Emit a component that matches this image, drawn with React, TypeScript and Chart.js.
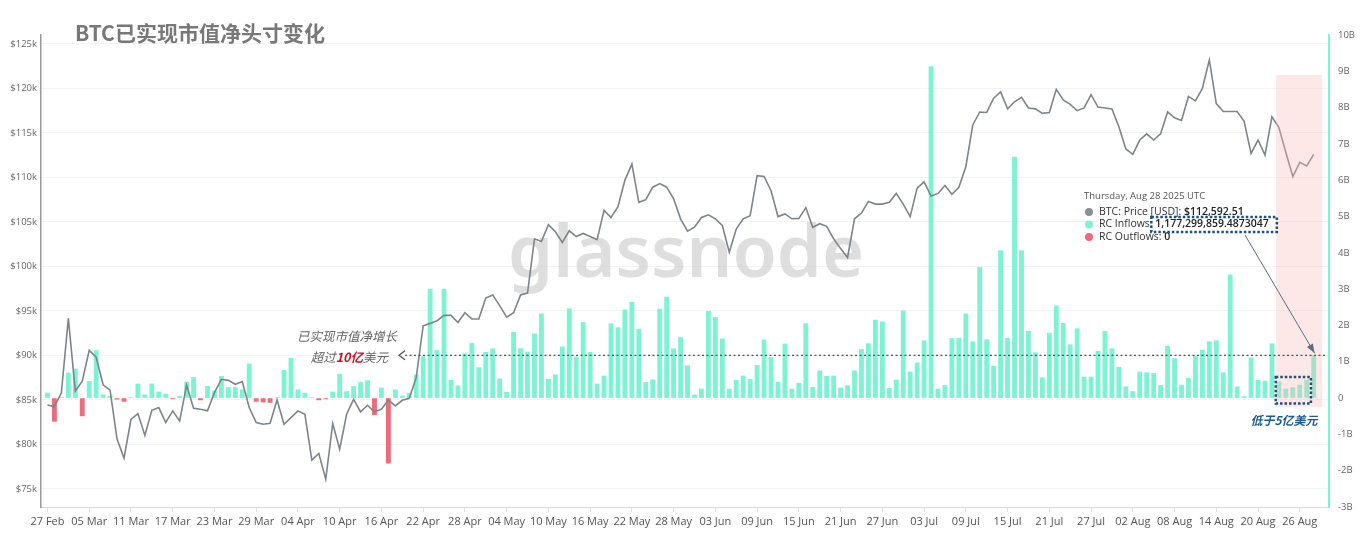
import React, { useEffect, useRef } from 'react';
import { Chart, registerables } from 'chart.js';
Chart.register(...registerables);

// Tick labels on the time axis (every 6 days from 27 Feb 2025)
const xTickLabels = ['27 Feb','05 Mar','11 Mar','17 Mar','23 Mar','29 Mar','04 Apr','10 Apr','16 Apr','22 Apr','28 Apr','04 May','10 May','16 May','22 May','28 May','03 Jun','09 Jun','15 Jun','21 Jun','27 Jun','03 Jul','09 Jul','15 Jul','21 Jul','27 Jul','02 Aug','08 Aug','14 Aug','20 Aug','26 Aug'];
const xTickStep = 6;

// BTC price (USD, thousands), daily 27 Feb – 28 Aug 2025
const btcPriceK = [
  84.44,84.25,85.8,94.16,86.0,87.1,90.57,89.8,86.7,86.1,
  80.6,78.46,82.8,83.47,81.0,83.84,84.14,82.46,83.77,82.64,
  86.68,84.07,83.95,83.77,85.82,87.32,87.2,86.76,87.06,84.14,
  82.46,82.27,82.38,85.0,82.27,83.02,83.77,83.39,78.23,78.98,
  76.1,82.35,79.47,83.39,85.07,83.65,84.4,83.65,83.95,85.0,
  84.33,84.96,85.19,87.5,93.33,93.6,93.9,94.5,94.5,93.7,
  94.8,94.1,94.1,96.45,96.8,95.6,94.3,94.8,96.8,97.0,
  103.1,102.8,104.7,103.9,102.7,104.0,103.35,103.7,103.35,103.0,
  106.3,105.5,106.7,109.7,111.5,107.2,107.5,108.9,109.3,108.9,
  107.6,105.35,103.95,104.4,105.5,105.8,105.35,104.6,101.6,104.2,
  105.35,105.7,110.2,110.1,108.5,105.6,105.9,105.35,105.4,106.6,
  104.4,104.8,104.5,103.1,102.0,101.0,105.35,106.0,107.3,107.0,
  107.0,107.2,108.2,107.0,105.6,108.8,109.5,107.9,108.2,109.1,
  108.1,108.9,111.2,115.9,117.35,117.3,118.9,119.6,117.7,118.5,
  119.0,117.8,117.7,117.2,117.3,119.9,118.7,118.2,117.5,117.8,
  119.3,117.9,117.8,117.7,115.7,113.2,112.6,114.2,114.9,114.2,
  114.9,117.35,116.7,116.4,119.1,118.6,120.0,123.2,118.3,117.4,
  117.4,117.4,116.3,112.7,114.2,112.5,116.8,115.6,112.8,110.1,
  111.7,111.3,112.59
];

// Net realized-cap position change (billions USD): positive = inflow, negative = outflow
const netRealizedCapB = [
  0.14,-0.64,0.02,0.69,0.8,-0.49,0.46,1.31,0.09,0.05,
  -0.03,-0.09,0.01,0.39,0.09,0.39,0.17,0.11,-0.01,0.05,
  0.44,0.57,-0.05,0.32,0.2,0.6,0.29,0.3,0.23,0.94,
  -0.09,-0.11,-0.12,0.01,0.76,1.1,0.23,0.14,0.01,-0.05,
  -0.02,0.17,0.66,0.18,0.32,0.43,0.48,-0.46,0.28,-1.79,
  0.23,0.06,0.13,0.64,1.14,3.0,1.31,3.0,0.49,0.34,
  1.22,1.51,0.84,1.26,1.36,0.53,0.16,1.81,1.36,1.27,
  1.77,2.32,0.52,0.64,1.41,2.46,1.13,2.08,1.26,0.39,
  0.61,2.05,1.94,2.43,2.64,1.9,0.43,0.5,2.45,2.78,
  1.36,1.67,0.89,0.09,0.25,2.39,2.22,1.63,0.25,0.49,
  0.61,0.52,0.9,1.6,1.12,0.44,1.49,0.25,0.41,2.05,
  0.3,0.75,0.6,0.61,0.28,0.34,0.75,1.34,1.5,2.15,
  2.1,0.27,0.5,2.4,0.72,0.97,1.58,9.13,0.25,0.35,
  1.64,1.65,2.32,1.55,3.6,1.61,0.88,4.06,1.65,6.64,
  4.06,1.84,1.25,0.56,1.79,2.54,2.06,1.47,1.91,0.58,
  0.58,1.29,1.84,1.36,0.85,0.31,0.18,0.72,0.7,0.68,
  0.35,1.43,1.09,0.36,0.55,1.15,1.32,1.55,1.58,0.7,
  3.39,0.31,0.04,1.11,0.49,0.47,1.5,0.45,0.25,0.29,
  0.36,0.5,1.177
];

const priceTicks = [75000, 80000, 85000, 90000, 95000, 100000, 105000, 110000, 115000, 120000, 125000];
const flowTicksB = [-3, -2, -1, 0, 1, 2, 3, 4, 5, 6, 7, 8, 9, 10];

const MINT = '#7ef3d3';
const RED = '#ee6b7a';
const LINE = '#7d858c';
const FONT = '"Open Sans", "Noto Sans", sans-serif';
const CJK = '"Noto Sans CJK SC", "Noto Sans", sans-serif';

const annotations = {
  id: 'annotations',
  beforeDatasetsDraw(chart: any) {
    const { ctx } = chart;
    ctx.save();
    ctx.font = `600 72px "Noto Sans", sans-serif`;
    ctx.fillStyle = 'rgba(200,200,200,0.6)';
    ctx.textAlign = 'center';
    ctx.textBaseline = 'alphabetic';
    ctx.fillText('glassnode', 686, 277);
    ctx.restore();
  },
  afterDatasetsDraw(chart: any) {
    const { ctx, chartArea, scales } = chart;
    const x = scales.x;
    const yF = scales.yFlow;
    const last = netRealizedCapB.length - 1;
    ctx.save();

    // pink highlight region
    const px0 = x.getPixelForValue(last - 5.4);
    const px1 = x.getPixelForValue(last + 1.2);
    const py0 = yF.getPixelForValue(8.9e9);
    const py1 = yF.getPixelForValue(-0.25e9);
    ctx.fillStyle = 'rgba(248,185,185,0.35)';
    ctx.fillRect(px0, py0, px1 - px0, py1 - py0);

    // dotted 1B line
    const yLine = yF.getPixelForValue(netRealizedCapB[last] * 1e9);
    ctx.strokeStyle = '#555';
    ctx.lineWidth = 1.4;
    ctx.setLineDash([2, 2.5]);
    ctx.beginPath();
    ctx.moveTo(405, yLine);
    ctx.lineTo(chartArea.right - 2, yLine);
    ctx.stroke();
    ctx.setLineDash([]);
    // chevron
    ctx.lineWidth = 1.3;
    ctx.beginPath();
    ctx.moveTo(405, yLine - 4.5);
    ctx.lineTo(399, yLine);
    ctx.lineTo(405, yLine + 4.5);
    ctx.stroke();

    // left annotation text
    ctx.textBaseline = 'middle';
    ctx.fillStyle = '#666';
    ctx.font = `italic 12.5px ${CJK}`;
    ctx.textAlign = 'right';
    ctx.fillText('已实现市值净增长', 397, 336);
    // 超过10亿美元
    const partsY = 357;
    ctx.textAlign = 'left';
    const p1 = '超过', p2 = '10亿', p3 = '美元';
    ctx.font = `italic 12.5px ${CJK}`;
    const w1 = ctx.measureText(p1).width;
    const w3 = ctx.measureText(p3).width;
    ctx.font = `italic bold 12.5px ${CJK}`;
    const w2 = ctx.measureText(p2).width;
    const sx = 388 - (w1 + w2 + w3);
    ctx.font = `italic 12.5px ${CJK}`;
    ctx.fillStyle = '#666';
    ctx.fillText(p1, sx, partsY);
    ctx.font = `italic bold 12.5px ${CJK}`;
    ctx.fillStyle = '#c8101e';
    ctx.fillText(p2, sx + w1, partsY);
    ctx.font = `italic 12.5px ${CJK}`;
    ctx.fillStyle = '#666';
    ctx.fillText(p3, sx + w1 + w2, partsY);

    // dotted blue box around the last small bars
    ctx.strokeStyle = '#1d4f7c';
    ctx.lineWidth = 2.5;
    ctx.setLineDash([2.5, 2]);
    const bx0 = x.getPixelForValue(last - 5.45);
    const bx1 = x.getPixelForValue(last - 0.4);
    const by0 = yF.getPixelForValue(0.58e9);
    const by1 = yF.getPixelForValue(-0.15e9);
    ctx.strokeRect(bx0, by0, bx1 - bx0, by1 - by0);
    ctx.setLineDash([]);

    ctx.font = `italic bold 12px ${CJK}`;
    ctx.fillStyle = '#1c5d8c';
    ctx.textAlign = 'center';
    ctx.fillText('低于5亿美元', 1284, 420);

    // tooltip (hover readout for 28 Aug)
    ctx.textAlign = 'left';
    ctx.font = `9.5px ${FONT}`;
    ctx.fillStyle = '#555';
    ctx.fillText('Thursday, Aug 28 2025 UTC', 1084, 196);
    const rows = [
      { c: '#8a8f94', l: 'BTC: Price [USD]: ', v: '$112,592.51' },
      { c: MINT, l: 'RC Inflows: ', v: '1,177,299,859.4873047' },
      { c: RED, l: 'RC Outflows: ', v: '0' },
    ];
    const rowY = [212, 224.5, 237];
    let valBox: any = null;
    rows.forEach((r, i) => {
      ctx.fillStyle = r.c;
      ctx.beginPath();
      ctx.arc(1089, rowY[i], 4, 0, Math.PI * 2);
      ctx.fill();
      ctx.font = `10.5px ${FONT}`;
      ctx.fillStyle = '#333';
      ctx.fillText(r.l, 1099, rowY[i]);
      const lw = ctx.measureText(r.l).width;
      ctx.font = `600 10.5px ${FONT}`;
      ctx.fillStyle = '#222';
      ctx.fillText(r.v, 1099 + lw, rowY[i]);
      if (i === 1) valBox = { x: 1099 + lw - 4, w: ctx.measureText(r.v).width + 12 };
    });
    ctx.strokeStyle = '#1d4f7c';
    ctx.lineWidth = 2.5;
    ctx.setLineDash([2.5, 2]);
    ctx.strokeRect(valBox.x, 217, valBox.w, 15);
    ctx.setLineDash([]);

    // arrow from tooltip value to last bar
    const ax0 = 1245, ay0 = 235;
    const ax1 = x.getPixelForValue(last) + 1, ay1 = yLine - 2;
    ctx.strokeStyle = '#5b6f80';
    ctx.fillStyle = '#5b6f80';
    ctx.lineWidth = 1;
    ctx.beginPath();
    ctx.moveTo(ax0, ay0);
    ctx.lineTo(ax1, ay1);
    ctx.stroke();
    const ang = Math.atan2(ay1 - ay0, ax1 - ax0);
    ctx.beginPath();
    ctx.moveTo(ax1, ay1);
    ctx.lineTo(ax1 - 10 * Math.cos(ang - 0.35), ay1 - 10 * Math.sin(ang - 0.35));
    ctx.lineTo(ax1 - 10 * Math.cos(ang + 0.35), ay1 - 10 * Math.sin(ang + 0.35));
    ctx.closePath();
    ctx.fill();

    ctx.restore();
  },
  afterDraw(chart: any) {
    const { ctx } = chart;
    ctx.save();
    ctx.font = `bold 21px ${CJK}`;
    ctx.fillStyle = '#787878';
    ctx.textAlign = 'left';
    ctx.textBaseline = 'middle';
    ctx.fillText('BTC已实现市值净头寸变化', 75, 33);
    ctx.restore();
  },
};

export default function App() {
  const ref = useRef<HTMLCanvasElement | null>(null);
  useEffect(() => {
    document.body.style.margin = '0';
    const inflows = netRealizedCapB.map((v, i) => ({ x: i, y: v > 0 ? v * 1e9 : null }));
    const outflows = netRealizedCapB.map((v, i) => ({ x: i, y: v < 0 ? v * 1e9 : null }));
    const price = btcPriceK.map((v, i) => ({ x: i, y: v * 1000 }));
    const chart = new Chart(ref.current as HTMLCanvasElement, {
      type: 'bar',
      data: {
        datasets: [
          {
            type: 'line', label: 'BTC: Price [USD]', data: price, yAxisID: 'yPrice',
            borderColor: LINE, borderWidth: 1.6, pointRadius: 0, tension: 0, order: 0,
          } as any,
          {
            type: 'bar', label: 'RC Inflows', data: inflows, yAxisID: 'yFlow',
            backgroundColor: MINT, barThickness: 4.2, grouped: false, order: 1,
          } as any,
          {
            type: 'bar', label: 'RC Outflows', data: outflows, yAxisID: 'yFlow',
            backgroundColor: RED, barThickness: 4.2, grouped: false, order: 1,
          } as any,
        ],
      },
      options: {
        animation: false,
        responsive: true,
        maintainAspectRatio: false,
        layout: { padding: { top: 35, left: 0, right: 0, bottom: 0 } },
        plugins: { legend: { display: false }, tooltip: { enabled: false }, title: { display: false } },
        scales: {
          x: {
            type: 'linear',
            offset: false,
            min: -0.93,
            max: 184.2,
            afterBuildTicks: (s: any) => { s.ticks = xTickLabels.map((_, i) => ({ value: i * xTickStep })); },
            afterFit: (s: any) => { s.height = 45; },
            ticks: {
              autoSkip: false, maxRotation: 0, padding: 3,
              color: '#555', font: { family: FONT, size: 11 },
              callback: (v: any) => xTickLabels[Math.round(v / xTickStep)] ?? '',
            },
            grid: { drawOnChartArea: false, tickLength: 5, color: '#e2e2e2', offset: false },
            border: { color: '#dcdcdc', width: 1 },
          },
          yPrice: {
            type: 'linear', position: 'left',
            min: 72970, max: 126000,
            afterBuildTicks: (s: any) => { s.ticks = priceTicks.map((v) => ({ value: v })); },
            afterFit: (s: any) => { s.width = 41; },
            ticks: {
              padding: 4, color: '#666', font: { family: FONT, size: 9.5 },
              callback: (v: any) => '$' + Math.round(v / 1000) + 'k',
            },
            grid: { color: '#f3f3f3', drawTicks: false },
            border: { color: '#9a9a9a', width: 1.5 },
          },
          yFlow: {
            type: 'linear', position: 'right',
            min: -3e9, max: 10e9,
            afterBuildTicks: (s: any) => { s.ticks = flowTicksB.map((v) => ({ value: v * 1e9 })); },
            afterFit: (s: any) => { s.width = 39; },
            ticks: {
              padding: 9, color: '#666', font: { family: FONT, size: 9.5 },
              callback: (v: any) => (v === 0 ? '0' : Math.round(v / 1e9) + 'B'),
            },
            grid: { drawOnChartArea: false, drawTicks: false },
            border: { color: MINT, width: 2 },
          },
        },
      } as any,
      plugins: [annotations],
    });
    return () => chart.destroy();
  }, []);
  return (
    <div style={{ position: 'fixed', left: 0, top: 0, width: 1368, height: 552, background: '#fff' }}>
      <canvas ref={ref} />
    </div>
  );
}
